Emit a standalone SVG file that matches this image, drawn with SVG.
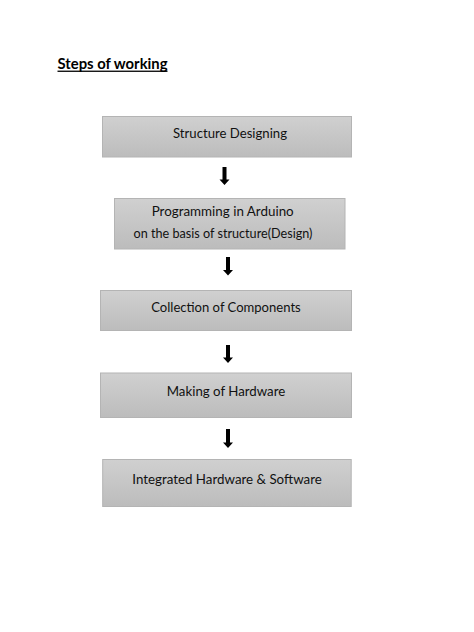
<svg xmlns="http://www.w3.org/2000/svg" width="474" height="632" viewBox="0 0 474 632">
<defs>
<linearGradient id="g" x1="0" y1="0" x2="0" y2="1">
<stop offset="0" stop-color="#d0d0d0"/>
<stop offset="1" stop-color="#bcbcbc"/>
</linearGradient>
</defs>
<style>
.box{fill:url(#g);stroke:#b4b4b4;stroke-width:1}
.t{font-family:Lato,"Liberation Sans",Arial,sans-serif;font-size:14px;fill:#111;text-anchor:middle}
.arr{fill:#000}
</style>
<rect width="474" height="632" fill="#fff"/>
<g id="title">
<text x="57.5" y="68.5" font-family="Lato, Liberation Sans, Arial, sans-serif" font-size="14.5" font-weight="bold" fill="#000" textLength="110" lengthAdjust="spacingAndGlyphs">Steps of working</text>
<rect x="57.5" y="70.6" width="110" height="1.3" fill="#000"/>
</g>
<g id="n1">
<rect class="box" x="102.5" y="116.5" width="249" height="40.5"/>
<text class="t" x="230" y="138.3" textLength="114" lengthAdjust="spacingAndGlyphs">Structure Designing</text>
</g>
<g id="n2">
<rect class="box" x="114.5" y="198.5" width="230.5" height="50.5"/>
<text class="t" x="222.7" y="216" textLength="142" lengthAdjust="spacingAndGlyphs">Programming in Arduino</text>
<text class="t" x="223" y="238" textLength="179" lengthAdjust="spacingAndGlyphs">on the basis of structure(Design)</text>
</g>
<g id="n3">
<rect class="box" x="100.5" y="290.5" width="251" height="40"/>
<text class="t" x="226" y="311.7" textLength="149.5" lengthAdjust="spacingAndGlyphs">Collection of Components</text>
</g>
<g id="n4">
<rect class="box" x="100.5" y="373" width="251" height="44.5"/>
<text class="t" x="226" y="395.7" textLength="118.5" lengthAdjust="spacingAndGlyphs">Making of Hardware</text>
</g>
<g id="n5">
<rect class="box" x="102.7" y="459.5" width="248.5" height="47"/>
<text class="t" x="227" y="484" textLength="189.5" lengthAdjust="spacingAndGlyphs">Integrated Hardware &amp; Software</text>
</g>
<g id="connectors">
<path class="arr" d="M222.5 167 h4 v12.5 h3 l-5 5.5 l-5 -5.5 h3 z"/>
<path class="arr" d="M226 257 h4 v13 h3 l-5 5.5 l-5 -5.5 h3 z"/>
<path class="arr" d="M226 345 h4 v12.5 h3 l-5 5.5 l-5 -5.5 h3 z"/>
<path class="arr" d="M226 429 h4 v13.5 h3 l-5 5.5 l-5 -5.5 h3 z"/>
</g>
</svg>
